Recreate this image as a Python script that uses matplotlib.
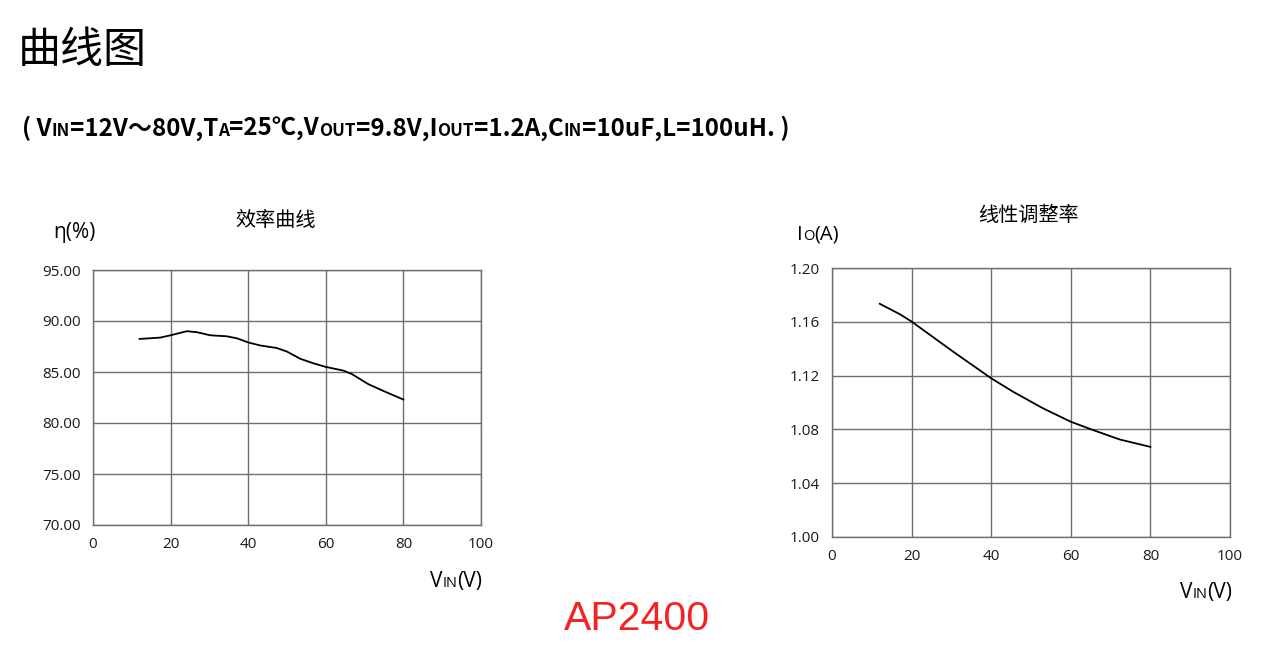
import matplotlib
matplotlib.use("Agg")
import matplotlib.pyplot as plt

# 效率曲线 (left chart)
eff_vin = [12, 17.3, 20, 24.2, 26.8, 30.2, 34.5, 37.1, 40, 43.1, 47.4, 50,
           53.4, 56.8, 60, 64.6, 66.7, 71, 75.7, 80]
eff_pct = [88.24, 88.37, 88.6, 89.0, 88.9, 88.6, 88.5, 88.3, 87.9, 87.6, 87.35,
           87.0, 86.3, 85.85, 85.5, 85.13, 84.8, 83.8, 83.0, 82.3]

# 线性调整率 (right chart)
reg_vin = [12, 17, 20, 24.6, 30.4, 40, 45.5, 53, 60, 65.6, 72.3, 80]
reg_io = [1.1734, 1.1657, 1.1602, 1.1503, 1.1379, 1.118, 1.108, 1.0957,
          1.0857, 1.0795, 1.0725, 1.067]

x_ticks = [0, 20, 40, 60, 80, 100]
eff_ticks = [70, 75, 80, 85, 90, 95]
reg_ticks = [1.00, 1.04, 1.08, 1.12, 1.16, 1.20]

W, H = 1285, 655
CJK = ['Noto Sans CJK SC', 'DejaVu Sans']
LAT = ['Open Sans', 'DejaVu Sans']

fig = plt.figure(figsize=(W / 100, H / 100), dpi=100)
renderer = fig.canvas.get_renderer()


def px(x, y):
    return x / W, 1 - y / H


def rich_text(x, y, parts, family, weight='normal', color='black'):
    """Draw pieces of text one after another on a shared baseline (pixels)."""
    for s, size in parts:
        t = fig.text(*px(x, y), s, fontsize=size, family=family, weight=weight,
                     color=color, va='baseline', ha='left')
        bb = t.get_window_extent(renderer)
        x += bb.width


def setup_axes(rect, xlim, ylim, yticks, yfmt):
    ax = fig.add_axes(rect)
    ax.set_xlim(*xlim)
    ax.set_ylim(*ylim)
    ax.set_xticks(x_ticks)
    ax.set_yticks(yticks)
    ax.set_yticklabels([yfmt.format(v) for v in yticks])
    ax.grid(True, color='#6e6e6e', linewidth=1.0)
    ax.set_axisbelow(True)
    for sp in ax.spines.values():
        sp.set_color('#6e6e6e')
        sp.set_linewidth(1.0)
    ax.tick_params(length=0, labelsize=11, labelcolor='#1a1a1a', pad=9)
    for lab in ax.get_xticklabels() + ax.get_yticklabels():
        lab.set_family(LAT)
    return ax


# left axes: x 93..481, y 270..525
ax1 = setup_axes([93 / W, 1 - 525 / H, (481 - 93) / W, (525 - 270) / H],
                 (0, 100), (70, 95), eff_ticks, '{:.2f}')
ax1.plot(eff_vin, eff_pct, color='black', linewidth=1.3)

# right axes: x 832..1230, y 268..537
ax2 = setup_axes([832 / W, 1 - 537 / H, (1230 - 832) / W, (537 - 268) / H],
                 (0, 100), (1.00, 1.20), reg_ticks, '{:.2f}')
ax2.plot(reg_vin, reg_io, color='black', linewidth=1.3)

# page title
fig.text(*px(18, 63), '曲线图', fontsize=31, family=CJK, va='baseline', ha='left')

# condition line
big, small = 17.4, 12.3
rich_text(22, 136, [('( V', big), ('IN', small), ('=12V～80V,T', big), ('A', small),
                    ('=25℃,V', big), ('OUT', small), ('=9.8V,I', big), ('OUT', small),
                    ('=1.2A,C', big), ('IN', small), ('=10uF,L=100uH. )', big)],
          family=CJK, weight='bold')

# chart titles
fig.text(*px(276, 220), '效率曲线', fontsize=14.5, family=CJK, ha='center', va='center')
fig.text(*px(1028, 215), '线性调整率', fontsize=14.5, family=CJK, ha='center', va='center')

# axis labels
fig.text(*px(53, 238), 'η(%)', fontsize=15, family=LAT, va='baseline', ha='left')
rich_text(797, 240, [('I', 14.5), ('O', 10.5), ('(A)', 14.5)], family=LAT)
rich_text(430, 587, [('V', 15), ('IN', 10.5), ('(V)', 15)], family=LAT)
rich_text(1180, 598, [('V', 15), ('IN', 10.5), ('(V)', 15)], family=LAT)

# part number
fig.text(*px(637, 630), 'AP2400', fontsize=29.5, family=['Liberation Sans', 'DejaVu Sans'],
         color='#f42222', ha='center', va='baseline')

fig.savefig('out.png', dpi=100)
